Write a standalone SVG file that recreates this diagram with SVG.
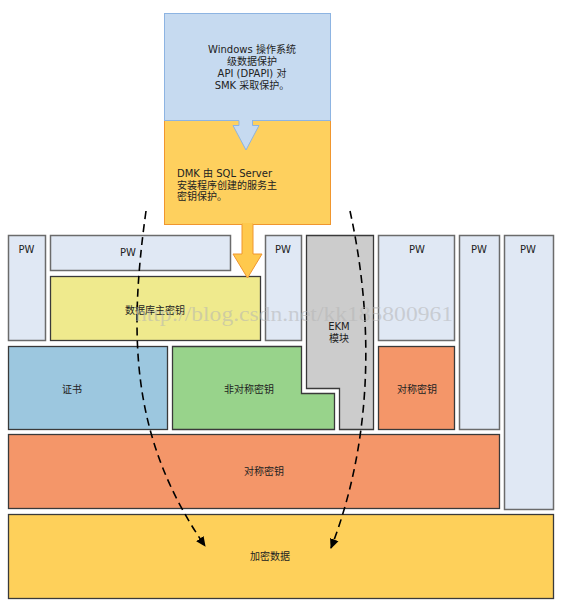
<svg xmlns="http://www.w3.org/2000/svg" width="569" height="608" viewBox="0 0 569 608">
<style>
text{font-family:"DejaVu Sans","Noto Sans CJK SC",sans-serif;font-size:10px;fill:#222}
.m{text-anchor:middle}
.pw{fill:#e0e8f4;stroke:#6b6b6b;stroke-width:1.5}
.k{stroke:#3a3a3a;stroke-width:1.3}
.dash{fill:none;stroke:#000;stroke-width:1.6;stroke-dasharray:8 5}
</style>
<defs>
<marker id="ah" viewBox="0 0 10 10" refX="9" refY="5" markerWidth="10" markerHeight="10" markerUnits="userSpaceOnUse" orient="auto">
<path d="M0,0.5 L10,5 L0,9.5 Z" fill="#000"/>
</marker>
</defs>
<rect width="569" height="608" fill="#fff"/>

<g id="pw1"><rect class="pw" x="8.5" y="235.5" width="37" height="105"/><text class="m" x="26.5" y="253">PW</text></g>
<g id="pw2"><rect class="pw" x="50.5" y="235.5" width="180" height="35"/><text class="m" x="128" y="256">PW</text></g>
<g id="dmk"><rect class="k" x="50.5" y="276.5" width="210" height="64" fill="#efea8d"/><text class="m" x="155" y="314">数据库主密钥</text></g>
<g id="pw3"><rect class="pw" x="265.5" y="235.5" width="36" height="105"/><text class="m" x="283" y="253">PW</text></g>
<g id="ekm"><path class="k" d="M306.5,235.5 H373.5 V429.5 H339.5 V388.5 H306.5 Z" fill="#cccccc"/><text class="m" x="339" y="330">EKM</text><text class="m" x="339" y="342">模块</text></g>
<g id="pw4"><rect class="pw" x="378.5" y="235.5" width="76" height="105"/><text class="m" x="417" y="253">PW</text></g>
<g id="pw5"><rect class="pw" x="459.5" y="235.5" width="40" height="194"/><text class="m" x="479" y="253">PW</text></g>
<g id="pw6"><rect class="pw" x="504.5" y="235.5" width="49" height="274"/><text class="m" x="528" y="253">PW</text></g>
<g id="cert"><rect class="k" x="8.5" y="346.5" width="159" height="83" fill="#9cc7df"/><text class="m" x="72" y="393">证书</text></g>
<g id="asym"><path class="k" d="M172.5,346.5 H301.5 V393.5 H334.5 V429.5 H172.5 Z" fill="#98d38b"/><text class="m" x="249" y="393">非对称密钥</text></g>
<g id="sym1"><rect class="k" x="378.5" y="346.5" width="76" height="83" fill="#f49669"/><text class="m" x="417" y="393">对称密钥</text></g>
<g id="sym2"><rect class="k" x="8.5" y="434.5" width="491" height="74" fill="#f49669"/><text class="m" x="264" y="475">对称密钥</text></g>
<g id="data"><rect class="k" x="8.5" y="514.5" width="545" height="84" fill="#fed05a"/><text class="m" x="270" y="560">加密数据</text></g>

<g id="smk">
<rect x="164.5" y="120.5" width="166" height="104" fill="#fed05e" stroke="#f0962e" stroke-width="1"/>
<rect x="164.5" y="13.5" width="166" height="107" fill="#c6daf0" stroke="#8db4e2" stroke-width="1"/>
<path d="M239,119 V125 H233 L246,150 L259,125 H252 V119 Z" fill="#c6daf0"/>
<path d="M239,120.5 V125.5 H233 L246,150 L259,125.5 H252.5 V120.5" fill="none" stroke="#8db4e2" stroke-width="1"/>
<text class="m" x="252" y="53">Windows 操作系统</text>
<text class="m" x="252" y="65">级数据保护</text>
<text class="m" x="252" y="77">API (DPAPI) 对</text>
<text class="m" x="252" y="89">SMK 采取保护。</text>
<text x="177" y="177">DMK 由 SQL Server</text>
<text x="177" y="188.5">安装程序创建的服务主</text>
<text x="177" y="200">密钥保护。</text>
</g>

<g id="connectors">
<path d="M242,224 V254 H233 L247.5,278 L262,254 H253 V224 Z" fill="#ffc94d" stroke="#f0962e" stroke-width="1"/>
<rect x="242.5" y="223" width="10" height="2" fill="#ffc94d"/>
<path class="dash" d="M146,211 C128,340 132,440 205,546" marker-end="url(#ah)"/>
<path class="dash" d="M350,211 C374,320 373,440 331,548" marker-end="url(#ah)"/>
</g>

<text x="135" y="321" textLength="318" lengthAdjust="spacingAndGlyphs" style="font-family:'Liberation Serif',serif;font-size:20px;fill:#b4b4b4;fill-opacity:0.55">http://blog.csdn.net/kk185800961</text>
</svg>
